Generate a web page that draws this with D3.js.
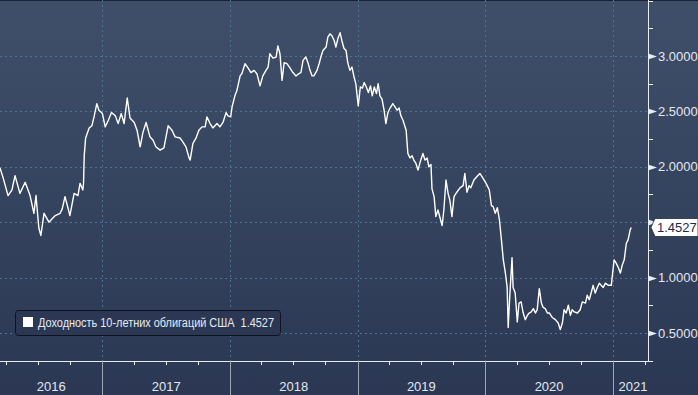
<!DOCTYPE html>
<html><head><meta charset="utf-8">
<script src="https://cdn.jsdelivr.net/npm/d3@7"></script>
<style>
html,body{margin:0;padding:0;background:#2d3a56;}
svg{display:block;font-family:"Liberation Sans",Arial,sans-serif;}
</style></head>
<body>
<svg id="c" width="698" height="395"></svg>
<script>
const seriesName = "Доходность 10-летних облигаций США";
const lastLabel = "1.4527";
const yTicks = [0.5, 1.0, 1.5, 2.0, 2.5, 3.0];
const yTickLabels = ["0.5000", "1.0000", "", "2.0000", "2.5000", "3.0000"];
const yearLabels = ["2016", "2017", "2018", "2019", "2020", "2021"];

const dates2016 = ["2016-03-14","2016-03-23","2016-04-06","2016-04-17","2016-04-26","2016-05-10","2016-05-25","2016-06-08","2016-06-19","2016-06-25","2016-07-03","2016-07-09","2016-07-18","2016-08-01","2016-08-19","2016-09-02","2016-09-08","2016-09-16","2016-09-30","2016-10-12","2016-10-23","2016-10-29","2016-11-06","2016-11-08","2016-11-10","2016-11-14","2016-11-24","2016-12-02","2016-12-08","2016-12-16","2016-12-22"];
const yields2016 = [1.99,1.90,1.74,1.79,1.92,1.76,1.86,1.74,1.58,1.74,1.45,1.38,1.58,1.50,1.56,1.58,1.62,1.73,1.56,1.76,1.74,1.85,1.79,1.85,2.10,2.26,2.35,2.37,2.45,2.57,2.51];

const dates2017 = ["2017-01-01","2017-01-09","2017-01-18","2017-01-27","2017-02-07","2017-02-15","2017-02-24","2017-03-04","2017-03-13","2017-03-21","2017-04-02","2017-04-10","2017-04-19","2017-04-27","2017-05-06","2017-05-17","2017-05-26","2017-06-03","2017-06-15","2017-06-26","2017-07-08","2017-07-19","2017-07-28","2017-08-11","2017-08-20","2017-08-28","2017-09-06","2017-09-09","2017-09-17","2017-09-26","2017-10-04","2017-10-13","2017-10-22","2017-10-27","2017-11-05","2017-11-13","2017-11-25","2017-12-03","2017-12-12","2017-12-21","2017-12-26"];
const yields2017 = [2.48,2.36,2.42,2.49,2.46,2.39,2.48,2.39,2.62,2.44,2.40,2.33,2.18,2.31,2.40,2.27,2.24,2.18,2.15,2.17,2.37,2.33,2.27,2.26,2.22,2.18,2.08,2.06,2.21,2.26,2.33,2.36,2.36,2.45,2.39,2.35,2.39,2.36,2.40,2.49,2.46];

const dates2018 = ["2018-01-03","2018-01-07","2018-01-15","2018-01-21","2018-01-30","2018-02-04","2018-02-13","2018-02-22","2018-03-02","2018-03-11","2018-03-19","2018-03-28","2018-04-05","2018-04-14","2018-04-20","2018-04-25","2018-05-04","2018-05-13","2018-05-18","2018-05-24","2018-05-30","2018-06-05","2018-06-13","2018-06-22","2018-06-30","2018-07-09","2018-07-17","2018-07-23","2018-07-29","2018-08-06","2018-08-12","2018-08-18","2018-08-24","2018-08-29","2018-09-07","2018-09-13","2018-09-18","2018-09-24","2018-10-03","2018-10-08","2018-10-14","2018-10-20","2018-10-26","2018-10-31","2018-11-06","2018-11-12","2018-11-17","2018-11-23","2018-11-29","2018-12-04","2018-12-10","2018-12-16","2018-12-22","2018-12-27"];
const yields2018 = [2.45,2.54,2.64,2.69,2.82,2.84,2.93,2.89,2.85,2.87,2.84,2.73,2.82,2.87,2.90,3.02,2.98,2.99,3.09,3.02,2.78,2.94,2.93,2.89,2.85,2.82,2.84,2.85,2.96,2.99,2.94,2.87,2.82,2.82,2.87,2.93,2.99,3.05,3.08,3.17,3.20,3.18,3.14,3.08,3.16,3.21,3.14,3.07,3.05,2.94,2.87,2.90,2.81,2.75];

const dates2019 = ["2019-01-03","2019-01-09","2019-01-15","2019-01-20","2019-01-26","2019-02-01","2019-02-07","2019-02-12","2019-02-18","2019-02-24","2019-03-01","2019-03-06","2019-03-12","2019-03-18","2019-03-23","2019-03-29","2019-04-04","2019-04-12","2019-04-18","2019-04-24","2019-04-30","2019-05-05","2019-05-11","2019-05-20","2019-05-25","2019-05-31","2019-06-06","2019-06-11","2019-06-17","2019-06-23","2019-06-29","2019-07-07","2019-07-13","2019-07-19","2019-07-24","2019-07-30","2019-08-02","2019-08-08","2019-08-13","2019-08-19","2019-08-25","2019-08-31","2019-09-05","2019-09-11","2019-09-17","2019-09-22","2019-09-28","2019-10-04","2019-10-12","2019-10-21","2019-10-30","2019-11-04","2019-11-10","2019-11-16","2019-11-21","2019-11-30","2019-12-08","2019-12-17","2019-12-23"];
const yields2019 = [2.55,2.72,2.71,2.76,2.72,2.67,2.73,2.64,2.72,2.66,2.75,2.64,2.61,2.51,2.39,2.49,2.53,2.57,2.54,2.51,2.53,2.46,2.42,2.33,2.12,2.08,2.10,2.06,2.03,1.97,2.04,2.12,2.06,2.08,2.00,2.02,1.80,1.73,1.55,1.61,1.54,1.47,1.61,1.88,1.76,1.70,1.55,1.73,1.77,1.81,1.83,1.94,1.77,1.83,1.81,1.88,1.91,1.94,1.91];

const dates2020 = ["2020-01-02","2020-01-07","2020-01-13","2020-01-19","2020-01-24","2020-01-30","2020-02-05","2020-02-11","2020-02-16","2020-02-22","2020-02-28","2020-03-04","2020-03-07","2020-03-12","2020-03-18","2020-03-21","2020-03-27","2020-04-02","2020-04-07","2020-04-13","2020-04-19","2020-04-25","2020-05-01","2020-05-06","2020-05-12","2020-05-18","2020-05-24","2020-05-29","2020-06-04","2020-06-10","2020-06-15","2020-06-21","2020-06-27","2020-07-03","2020-07-11","2020-07-20","2020-07-28","2020-08-03","2020-08-09","2020-08-14","2020-08-20","2020-08-26","2020-09-01","2020-09-06","2020-09-12","2020-09-21","2020-09-29","2020-10-05","2020-10-14","2020-10-19","2020-10-25","2020-10-31","2020-11-05","2020-11-11","2020-11-17","2020-11-23","2020-11-28","2020-12-04","2020-12-10","2020-12-18","2020-12-27"];
const yields2020 = [1.86,1.83,1.79,1.65,1.64,1.58,1.63,1.52,1.36,1.16,1.04,0.91,0.55,0.86,1.18,0.91,0.86,0.60,0.77,0.78,0.68,0.62,0.66,0.68,0.69,0.72,0.68,0.71,0.90,0.77,0.73,0.72,0.68,0.68,0.64,0.62,0.59,0.53,0.59,0.71,0.68,0.75,0.66,0.71,0.69,0.68,0.71,0.78,0.77,0.84,0.80,0.87,0.93,0.86,0.91,0.95,0.93,0.91,0.95,0.93,0.93];

const dates2021 = ["2021-01-04","2021-01-10","2021-01-16","2021-01-22","2021-01-27","2021-02-02","2021-02-08","2021-02-13","2021-02-19","2021-02-22"];
const yields2021 = [1.16,1.13,1.09,1.04,1.11,1.16,1.31,1.34,1.43,1.4527];

const parse = d3.timeParse("%Y-%m-%d");
const dateLists = [dates2016, dates2017, dates2018, dates2019, dates2020, dates2021];
const yieldLists = [yields2016, yields2017, yields2018, yields2019, yields2020, yields2021];
const data = [];
dateLists.forEach((ds, i) => ds.forEach((d, j) => data.push({date: parse(d), value: yieldLists[i][j]})));

const W = 698, H = 395;
const plotR = 648, plotB = 361;
const svg = d3.select("#c");

const defs = svg.append("defs");
const grad = defs.append("linearGradient").attr("id", "bg").attr("x1", 0).attr("y1", 0).attr("x2", 0).attr("y2", 1);
grad.append("stop").attr("offset", "0%").attr("stop-color", "#3f4f6a");
grad.append("stop").attr("offset", "45%").attr("stop-color", "#36455f");
grad.append("stop").attr("offset", "100%").attr("stop-color", "#2b3753");
svg.append("rect").attr("width", W).attr("height", H).attr("fill", "url(#bg)");
svg.append("line").attr("x1", 0).attr("x2", W).attr("y1", 0.5).attr("y2", 0.5).attr("stroke", "#1c2230");

const x = d3.scaleTime().domain([parse("2016-03-14"), parse("2021-04-11")]).range([0, plotR]);
const y = d3.scaleLinear().domain([0.247, 3.505]).range([plotB, 0]);

const years = d3.timeYear.range(parse("2017-01-01"), parse("2021-06-01"));
const quarters = d3.timeMonth.every(3).range(parse("2016-03-14"), parse("2021-04-11"));

// grid
const grid = svg.append("g").attr("stroke", "#4f7390").attr("stroke-dasharray", "2,3").attr("stroke-width", 1);
grid.selectAll("line.h").data(yTicks).join("line")
  .attr("x1", 0).attr("x2", plotR).attr("y1", d => Math.round(y(d)) + 0.5).attr("y2", d => Math.round(y(d)) + 0.5);
grid.selectAll("line.v").data(years).join("line")
  .attr("x1", d => Math.round(x(d)) + 0.5).attr("x2", d => Math.round(x(d)) + 0.5).attr("y1", 0).attr("y2", plotB);

// line
const line = d3.line().x(d => x(d.date)).y(d => y(d.value));
svg.append("path").datum(data).attr("d", line).attr("fill", "none")
  .attr("stroke", "#ffffff").attr("stroke-width", 1.4).attr("stroke-linejoin", "round");

// x axis
const xa = svg.append("g");
xa.append("line").attr("x1", 0).attr("x2", plotR).attr("y1", plotB + 0.5).attr("y2", plotB + 0.5).attr("stroke", "#e8edf3");
xa.selectAll("line.q").data(quarters).join("line")
  .attr("x1", d => Math.round(x(d)) + 0.5).attr("x2", d => Math.round(x(d)) + 0.5)
  .attr("y1", plotB).attr("y2", plotB + 4).attr("stroke", "#e8edf3");
xa.selectAll("line.yr").data(years).join("line")
  .attr("x1", d => Math.round(x(d)) + 0.5).attr("x2", d => Math.round(x(d)) + 0.5)
  .attr("y1", plotB).attr("y2", H).attr("stroke", "#9ea6b2");
const bounds = [x.range()[0]].concat(years.map(d => x(d))).concat([plotR + 5]);
xa.selectAll("text").data(yearLabels).join("text")
  .attr("x", (d, i) => (bounds[i] + bounds[i + 1]) / 2).attr("y", 391)
  .attr("text-anchor", "middle").attr("font-size", 13).attr("fill", "#e2e8f0").text(d => d);

// y axis
const ya = svg.append("g");
ya.append("line").attr("x1", plotR + 0.5).attr("x2", plotR + 0.5).attr("y1", 0).attr("y2", plotB + 1).attr("stroke", "#e8edf3");
const minor = d3.range(0.25, 3.51, 0.25);
ya.selectAll("line.m").data(minor).join("line")
  .attr("x1", plotR).attr("x2", plotR + 5).attr("y1", d => Math.round(y(d)) + 0.5).attr("y2", d => Math.round(y(d)) + 0.5)
  .attr("stroke", "#e8edf3");
ya.selectAll("path.tri").data(yTicks).join("path")
  .attr("d", d => { const yy = Math.round(y(d)) + 0.5; return `M${plotR},${yy - 3}L${plotR + 9},${yy}L${plotR},${yy + 3}Z`; })
  .attr("fill", "#e8edf3");
ya.selectAll("text").data(yTicks.filter((d, i) => yTickLabels[i] !== "")).join("text")
  .attr("x", plotR + 10).attr("y", d => y(d)).attr("dy", "0.36em")
  .attr("font-size", 13).attr("fill", "#e2e8f0").text(d => yTickLabels[yTicks.indexOf(d)]);

// last value label
const last = data[data.length - 1];
const ly = Math.round(y(last.value)) + 0.5;
svg.append("path")
  .attr("d", `M${plotR + 3},${ly}L${plotR + 7},${ly - 9}L${W},${ly - 9}L${W},${ly + 9}L${plotR + 7},${ly + 9}Z`)
  .attr("fill", "#ffffff").attr("stroke", "#1e2a40").attr("stroke-width", 0.8);
svg.append("text").attr("x", plotR + 9).attr("y", ly).attr("dy", "0.36em")
  .attr("font-size", 13).attr("fill", "#1b2b4b").text(lastLabel);

// legend
const lg = svg.append("g");
lg.append("rect").attr("x", 15.5).attr("y", 310.5).attr("width", 265).attr("height", 25).attr("rx", 3)
  .attr("fill", "#2c3853").attr("stroke", "#0e1320").attr("stroke-width", 1);
lg.append("rect").attr("x", 23).attr("y", 317).attr("width", 10).attr("height", 10).attr("fill", "#ffffff");
lg.append("text").attr("x", 38).attr("y", 327).attr("font-size", 12).attr("fill", "#e6ebf2")
  .attr("textLength", 236).attr("lengthAdjust", "spacingAndGlyphs")
  .attr("xml:space", "preserve").style("white-space", "pre").text(seriesName + "  " + lastLabel);
</script>
</body></html>
